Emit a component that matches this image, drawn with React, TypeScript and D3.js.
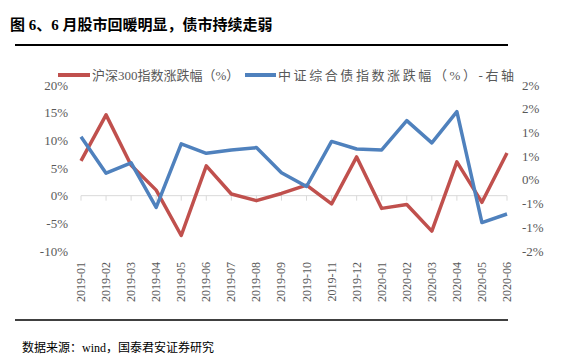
import { scalePoint, scaleLinear, line } from 'd3'

const months = [
  '2019-01', '2019-02', '2019-03', '2019-04', '2019-05', '2019-06',
  '2019-07', '2019-08', '2019-09', '2019-10', '2019-11', '2019-12',
  '2020-01', '2020-02', '2020-03', '2020-04', '2020-05', '2020-06'
]

// 沪深300 monthly change, left axis (%)
const hs300 = [6.3, 14.6, 5.5, 1.0, -7.2, 5.4, 0.3, -0.9, 0.4, 1.9, -1.5, 7.0, -2.3, -1.6, -6.4, 6.1, -1.2, 7.7]
// 中证综合债 monthly change, right axis (%)
const bond = [0.91, 0.14, 0.36, -0.58, 0.76, 0.56, 0.63, 0.68, 0.15, -0.14, 0.81, 0.65, 0.63, 1.25, 0.78, 1.44, -0.90, -0.72]

const leftTicks = [20, 15, 10, 5, 0, -5, -10]
const rightTicks = [2, 1.5, 1, 0.5, 0, -0.5, -1, -1.5]

const width = 575
const height = 360
const plot = { left: 81, right: 507, top: 85, bottom: 251 }

const red = '#C0504D'
const blue = '#4F81BD'
const grey = '#595959'
const font = '"Times New Roman", "Liberation Serif", "Noto Sans CJK SC", serif'

// excel style percent rounding (away from zero)
const fmtRight = (v: number) => {
  const r = Math.sign(v) * Math.round(Math.abs(v))
  return `${r}%`
}

function App() {
  const x = scalePoint<string>().domain(months).range([plot.left, plot.right])
  const yL = scaleLinear().domain([-10, 20]).range([plot.bottom, plot.top])
  const yR = scaleLinear().domain([-1.5, 2]).range([plot.bottom, plot.top])

  const redLine = line<number>().x((_, i) => x(months[i])!).y(d => yL(d))
  const blueLine = line<number>().x((_, i) => x(months[i])!).y(d => yR(d))

  const zeroY = yL(0)

  return (
    <svg width={width} height={height} style={{ position: 'absolute', left: 0, top: 0, background: '#fff' }}>
      <text x={10} y={30} fontSize={15} fontWeight="bold" fontFamily={font} fill="#000">
        图 6、6 月股市回暖明显，债市持续走弱
      </text>
      <line x1={15} x2={508} y1={45} y2={45} stroke="#000" strokeWidth={2} />

      {/* legend */}
      <g fontFamily={font} fontSize={13} fill={grey}>
        <line x1={58} x2={90} y1={75} y2={75} stroke={red} strokeWidth={4} />
        <text x={92} y={80}>沪深300指数涨跌幅（%）</text>
        <line x1={245} x2={276} y1={75} y2={75} stroke={blue} strokeWidth={4} />
        <text x={278} y={80} textLength={236}>中证综合债指数涨跌幅（%）-右轴</text>
      </g>

      {/* left axis */}
      {leftTicks.map(t => (
        <text key={t} x={68} y={yL(t)} dy="0.35em" textAnchor="end" fontSize={13} fontFamily={font} fill={grey}>
          {t}%
        </text>
      ))}
      {/* right axis */}
      {rightTicks.map(t => (
        <text key={t} x={522} y={yR(t)} dy="0.35em" fontSize={13} fontFamily={font} fill={grey}>
          {fmtRight(t)}
        </text>
      ))}

      {/* category axis at zero */}
      <line x1={plot.left} x2={plot.right} y1={zeroY} y2={zeroY} stroke="#D9D9D9" strokeWidth={1} />
      {months.map(m => (
        <line key={m} x1={x(m)} x2={x(m)} y1={zeroY} y2={zeroY + 5} stroke="#D9D9D9" strokeWidth={1} />
      ))}
      {months.map(m => (
        <text
          key={m}
          transform={`translate(${x(m)! + 4},262) rotate(-90)`}
          textAnchor="end"
          fontSize={12}
          fontFamily={font}
          fill={grey}
        >
          {m}
        </text>
      ))}

      <path d={redLine(hs300)!} fill="none" stroke={red} strokeWidth={3.5} strokeLinejoin="round" />
      <path d={blueLine(bond)!} fill="none" stroke={blue} strokeWidth={3.5} strokeLinejoin="round" />

      <line x1={15} x2={508} y1={320} y2={320} stroke="#000" strokeWidth={1.5} />
      <text x={22} y={352} fontSize={12} fontFamily={font} fill="#000">
        数据来源：wind，国泰君安证券研究
      </text>
    </svg>
  )
}

export default App
